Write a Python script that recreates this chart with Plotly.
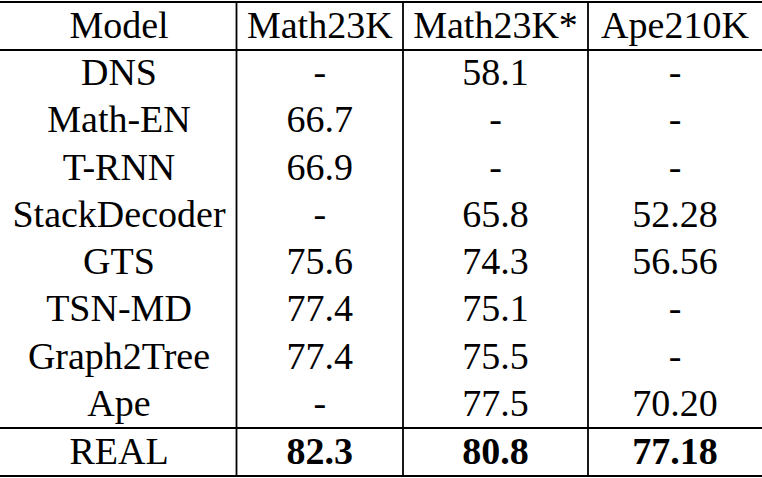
import plotly.graph_objects as go

# table content
columns = ["Model", "Math23K", "Math23K*", "Ape210K"]
models = ["DNS", "Math-EN", "T-RNN", "StackDecoder", "GTS", "TSN-MD",
          "Graph2Tree", "Ape", "REAL"]
math23k = ["-", "66.7", "66.9", "-", "75.6", "77.4", "77.4", "-", "82.3"]
math23k_star = ["58.1", "-", "-", "65.8", "74.3", "75.1", "75.5", "77.5", "80.8"]
ape210k = ["-", "-", "-", "52.28", "56.56", "-", "-", "70.20", "77.18"]
bold_row = "REAL"

# layout in pixels (axes are set to the page size)
W, H = 762, 478
col_edges = [0, 236.5, 403, 588, 762]
top_y, head_y, last_y, bottom_y = 2, 50, 428, 476
serif = "Liberation Serif"
font = dict(family=serif, size=38, color="black")
text_shift = 2

n = len(models)
row_h = (last_y - head_y) / (n - 1)
row_centers = [(top_y + head_y) / 2]
row_centers += [head_y + row_h * (i + 0.5) for i in range(n - 1)]
row_centers.append((last_y + bottom_y) / 2)
row_centers = [y + text_shift for y in row_centers]

col_centers = [(col_edges[i] + col_edges[i + 1]) / 2 for i in range(4)]
col_centers[0] = 119

body = [models, math23k, math23k_star, ape210k]

fig = go.Figure()
for c in range(4):
    texts = [columns[c]]
    for r in range(n):
        t = body[c][r]
        if models[r] == bold_row and c > 0:
            t = "<b>" + t + "</b>"
        texts.append(t)
    fig.add_trace(go.Scatter(
        x=[col_centers[c]] * len(texts), y=row_centers, text=texts,
        mode="text", textposition="middle center", textfont=font,
        hoverinfo="skip", showlegend=False, cliponaxis=False))

# rules
for y in [top_y, head_y, last_y, bottom_y]:
    fig.add_shape(type="line", xref="paper", yref="paper", x0=0, x1=1,
                  y0=1 - y / H, y1=1 - y / H,
                  line=dict(color="black", width=2))
for x in col_edges[1:-1]:
    fig.add_shape(type="line", xref="paper", yref="paper",
                  x0=x / W, x1=x / W, y0=1 - top_y / H, y1=1 - bottom_y / H,
                  line=dict(color="black", width=1.8))

fig.update_layout(
    width=W, height=H,
    margin=dict(l=0, r=0, t=0, b=0),
    font=dict(family=serif),
    plot_bgcolor="white", paper_bgcolor="white",
    xaxis=dict(range=[0, W], visible=False, fixedrange=True),
    yaxis=dict(range=[H, 0], visible=False, fixedrange=True),
)

fig.write_html("out.html", config={"displayModeBar": False},
               post_script="document.body.style.margin='0px';")
